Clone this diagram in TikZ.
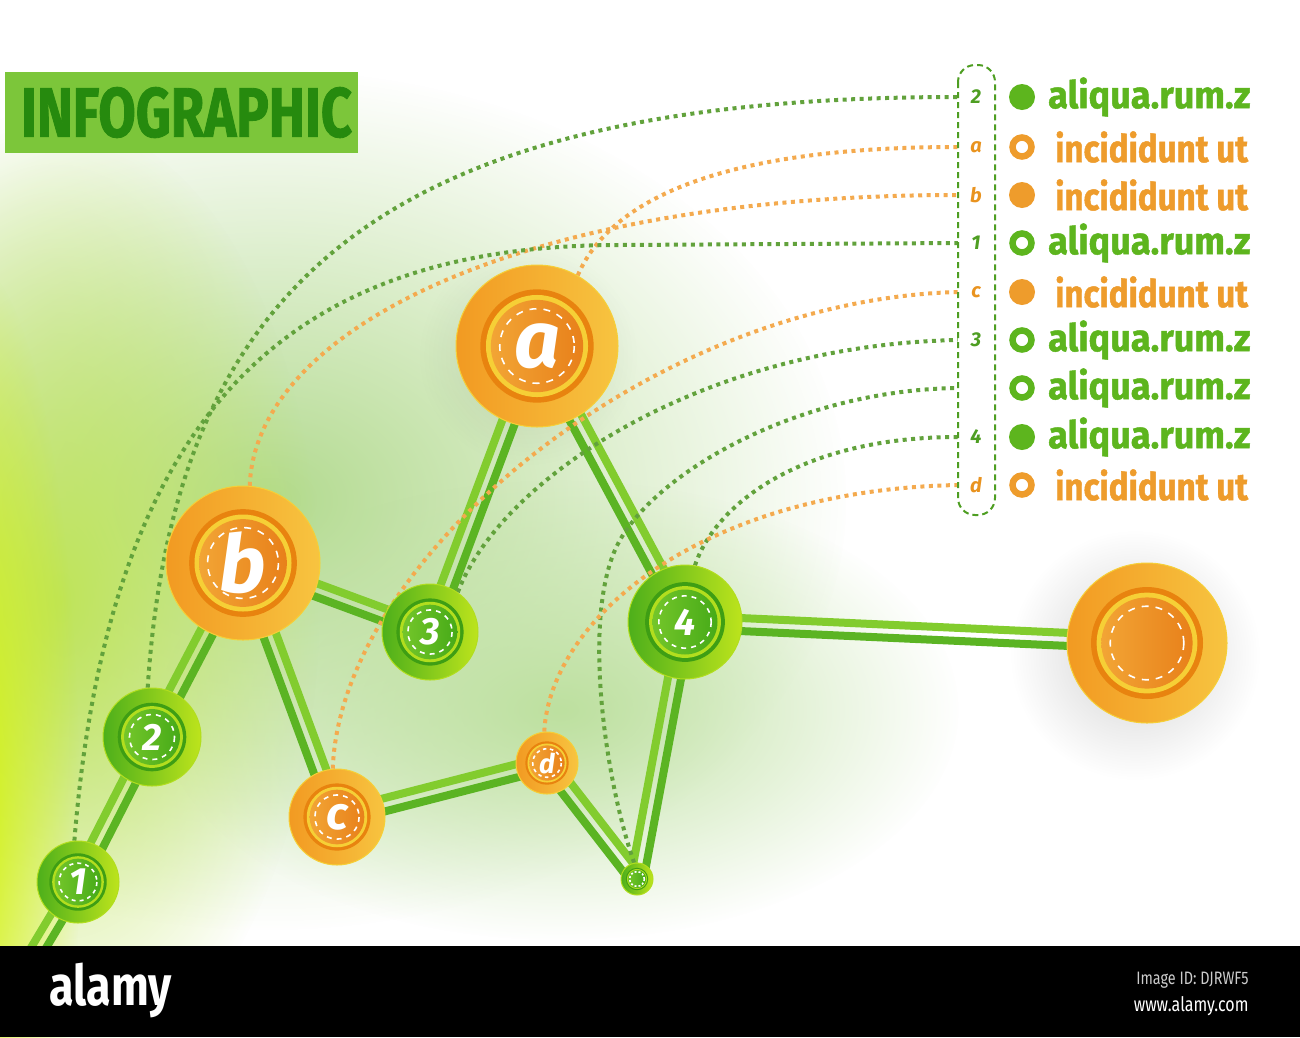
\documentclass[tikz,border=0pt]{standalone}
\usepackage{fontspec}
\setmainfont{Fira Sans}
\newfontfamily\titlefont[FakeStretch=0.775, FakeBold=1.2]{Fira Sans}
\newfontfamily\greenfont[FakeStretch=0.95, FakeBold=1.2]{Fira Sans}
\newfontfamily\orangefont[FakeStretch=0.87, FakeBold=1.2]{Fira Sans}
\newfontfamily\bannerfont[FakeStretch=0.8]{Fira Sans}
\usepackage{tikz}
\usetikzlibrary{calc,fadings}

% palette
\definecolor{oLo}{HTML}{F29A22}
\definecolor{oHi}{HTML}{F7C440}
\definecolor{oRim}{HTML}{F6CF36}
\definecolor{oRing}{HTML}{E8830F}
\definecolor{oIn}{HTML}{E8801A}
\definecolor{oInHi}{HTML}{F2A535}
\definecolor{gLo}{HTML}{4DAF1B}
\definecolor{gHi}{HTML}{BDE41C}
\definecolor{gRim}{HTML}{B2DE1E}
\definecolor{gRing}{HTML}{3E9E14}
\definecolor{gIn}{HTML}{46AA18}
\definecolor{gInHi}{HTML}{74C62A}
\definecolor{wireA}{HTML}{82CC2E}
\definecolor{wireB}{HTML}{5BB423}
\definecolor{gDot}{HTML}{62A23C}
\definecolor{oDot}{HTML}{F4AA4E}
\definecolor{gKey}{HTML}{4E9E22}
\definecolor{oKey}{HTML}{E9931F}
\definecolor{gText}{HTML}{5DB51E}
\definecolor{oText}{HTML}{EE9C2C}
\definecolor{titleBg}{HTML}{7CC63A}
\definecolor{titleInk}{HTML}{268A0E}
\definecolor{bgBlob}{HTML}{B2DA8E}
\definecolor{bgLime}{HTML}{D3F20A}

\pgfdeclarelayer{back}
\pgfdeclarelayer{wires}
\pgfsetlayers{back,wires,main}

\tikzfading[name=blobfade, inner color=transparent!0, outer color=transparent!100]

% two parallel strips between two nodes
\newcommand{\twin}[2]{%
  \draw[wire, draw=wireA] ($(#1)!6.5pt!90:(#2)$) -- ($(#2)!6.5pt!-90:(#1)$);
  \draw[wire, draw=wireB] ($(#1)!6.5pt!-90:(#2)$) -- ($(#2)!6.5pt!90:(#1)$);}

\tikzset{
  orangebub/.style 2 args={circle, inner sep=0pt, minimum size=2*#1,
    left color=oLo, right color=oHi, draw=oRim, line width=1pt, text=white,
    path picture={
      \fill[oRing] (path picture bounding box.center) circle[radius=0.70*#1];
      \fill[oRim] (path picture bounding box.center) circle[radius=0.63*#1];
      \shade[left color=oInHi, right color=oIn] (path picture bounding box.center) circle[radius=0.57*#1];
      \draw[white, line width=1.6pt, dash pattern=on #2 off #2] (path picture bounding box.center) circle[radius=0.46*#1];
    }},
  greenbub/.style 2 args={circle, inner sep=0pt, minimum size=2*#1,
    left color=gLo, right color=gHi, draw=gRim, line width=1pt, text=white,
    path picture={
      \fill[gRing] (path picture bounding box.center) circle[radius=0.70*#1];
      \fill[gRim] (path picture bounding box.center) circle[radius=0.63*#1];
      \shade[left color=gInHi, right color=gIn] (path picture bounding box.center) circle[radius=0.57*#1];
      \draw[white, line width=1.6pt, dash pattern=on #2 off #2] (path picture bounding box.center) circle[radius=0.46*#1];
    }},
  bigletter/.style={font=\bfseries\itshape\fontsize{80}{80}\selectfont},
  midletter/.style={font=\bfseries\itshape\fontsize{46}{46}\selectfont},
  smallletter/.style={font=\bfseries\itshape\fontsize{27}{27}\selectfont},
  numletter/.style={font=\bfseries\itshape\fontsize{38}{38}\selectfont},
  wire/.style={line width=8pt},
  gdots/.style={draw=gDot, line width=4pt, dash pattern=on 4pt off 4.5pt},
  odots/.style={draw=oDot, line width=4pt, dash pattern=on 4pt off 4.5pt},
  key/.style={minimum width=36, inner sep=0pt, font=\bfseries\itshape\fontsize{20}{20}\selectfont},
  disk/.style={circle, inner sep=0pt, minimum size=26, fill=#1},
  ring/.style={circle, inner sep=0pt, minimum size=19, line width=6.5pt, draw=#1, fill=white},
  greenitem/.style={anchor=west, inner sep=0pt, text=gText, font=\greenfont\bfseries\fontsize{38}{38}\selectfont},
  orangeitem/.style={anchor=west, inner sep=0pt, text=oText, font=\orangefont\bfseries\fontsize{38}{38}\selectfont},
}

\begin{document}
\begin{tikzpicture}[x=1pt, y=-1pt]
  \useasboundingbox (0,0) rectangle (1300,1037);

  % soft green background
  \begin{pgfonlayer}{back}
    \fill[white] (0,0) rectangle (1300,946);
    \fill[bgBlob, path fading=blobfade] (270,500) ellipse [x radius=580, y radius=430];
    \fill[bgBlob!85!white, path fading=blobfade] (560,710) ellipse [x radius=400, y radius=230];
    \fill[bgBlob!60!bgLime, path fading=blobfade] (60,600) ellipse [x radius=260, y radius=480];
    \fill[bgLime, path fading=blobfade] (-30,820) ellipse [x radius=110, y radius=560];
    \fill[black, opacity=0.18, path fading=blobfade] (1135,655) circle (125);
    \fill[black, opacity=0.10, path fading=blobfade] (528,356) circle (110);
  \end{pgfonlayer}

  % title
  \node[fill=titleBg, minimum width=353, minimum height=81, text=titleInk,
        font=\titlefont\bfseries\fontsize{70}{70}\selectfont] (title) at (181.5,112.5) {\hspace*{10pt}INFOGRAPHIC};

  % bubbles
  \node[orangebub={81}{7pt}, bigletter] (a) at (537,346) {a};
  \node[orangebub={77}{7pt}, bigletter] (b) at (243,563) {b};
  \node[orangebub={48}{5pt}, midletter] (c) at (337,817) {c};
  \node[orangebub={31}{3.5pt}, smallletter] (d) at (547,763) {d};
  \node[orangebub={80}{7pt}] (f) at (1147,643) {};
  \node[greenbub={41}{4pt}, numletter] (n1) at (78,882) {1};
  \node[greenbub={49}{5pt}, numletter] (n2) at (152,737) {2};
  \node[greenbub={48}{5pt}, numletter] (n3) at (430,632) {3};
  \node[greenbub={57}{5pt}, numletter] (n4) at (685,622) {4};
  \node[greenbub={16}{2pt}] (e) at (637,879) {};
  \coordinate (tail) at (36,952);

  % legend
  \draw[gKey, line width=2pt, dash pattern=on 6pt off 4pt, rounded corners=17pt] (958,65) rectangle (995,515);
  \node[key, text=gKey] (k2) at (976,97) {2};
  \node[key, text=oKey] (ka) at (976,147) {a};
  \node[key, text=oKey] (kb) at (976,195) {b};
  \node[key, text=gKey] (k1) at (976,243) {1};
  \node[key, text=oKey] (kc) at (976,292) {c};
  \node[key, text=gKey] (k3) at (976,340) {3};
  \node[key] (k0) at (976,388) {};
  \node[key, text=gKey] (k4) at (976,437) {4};
  \node[key, text=oKey] (kd) at (976,485) {d};

  \node[disk=gText] (s2) at (1022,97) {};
  \node[ring=oText] (sa) at (1022,147) {};
  \node[disk=oText] (sb) at (1022,195) {};
  \node[ring=gText] (s1) at (1022,243) {};
  \node[disk=oText] (sc) at (1022,292) {};
  \node[ring=gText] (s3) at (1022,340) {};
  \node[ring=gText] (s0) at (1022,388) {};
  \node[disk=gText] (s4) at (1022,437) {};
  \node[ring=oText] (sd) at (1022,485) {};

  \node[greenitem] (t2) at (1048,97) {aliqua.rum.z};
  \node[orangeitem] (ta) at (1055,147) {incididunt ut};
  \node[orangeitem] (tb) at (1055,195) {incididunt ut};
  \node[greenitem] (t1) at (1048,243) {aliqua.rum.z};
  \node[orangeitem] (tc) at (1055,292) {incididunt ut};
  \node[greenitem] (t3) at (1048,340) {aliqua.rum.z};
  \node[greenitem] (t0) at (1048,388) {aliqua.rum.z};
  \node[greenitem] (t4) at (1048,437) {aliqua.rum.z};
  \node[orangeitem] (td) at (1055,485) {incididunt ut};

  \begin{pgfonlayer}{wires}
    % chain of strips
    \twin{tail}{n1} \twin{n1}{n2} \twin{n2}{b}
    \twin{b}{n3} \twin{n3}{a} \twin{a}{n4} \twin{n4}{f}
    \twin{b}{c} \twin{c}{d} \twin{d}{e} \twin{e}{n4}

    % dotted leaders to the legend
    \draw[gdots] (n2.95) .. controls (175,270) and (400,97) .. (k2.west);
    \draw[odots] (a.60) .. controls (610,200) and (720,147) .. (ka.west);
    \draw[odots] (b.85) .. controls (255,330) and (520,195) .. (kb.west);
    \draw[gdots] (n1.95) .. controls (110,400) and (300,245) .. (620,245) -- (k1.west);
    \draw[odots] (c.95) .. controls (340,560) and (650,300) .. (kc.west);
    \draw[gdots] (n3.55) .. controls (500,480) and (700,345) .. (k3.west);
    \draw[gdots] (e.100) .. controls (605,780) and (580,610) .. (620,540)
                 .. controls (660,470) and (800,390) .. (k0.west);
    \draw[gdots] (n4.80) .. controls (715,505) and (800,437) .. (k4.west);
    \draw[odots] (d.95) .. controls (550,620) and (700,490) .. (kd.west);
  \end{pgfonlayer}

  % bottom banner
  \fill[black] (0,946) rectangle (1300,1037);
  \node[anchor=west, text=white, font=\bannerfont\bfseries\fontsize{56}{56}\selectfont] (brand) at (46,990) {alamy};
  \node[anchor=east, text=white!80!black, font=\bannerfont\fontsize{18}{18}\selectfont] (imgid) at (1252,980) {Image ID: DJRWF5};
  \node[anchor=east, text=white, font=\bannerfont\fontsize{20}{20}\selectfont] (site) at (1252,1006) {www.alamy.com};
\end{tikzpicture}
\end{document}
